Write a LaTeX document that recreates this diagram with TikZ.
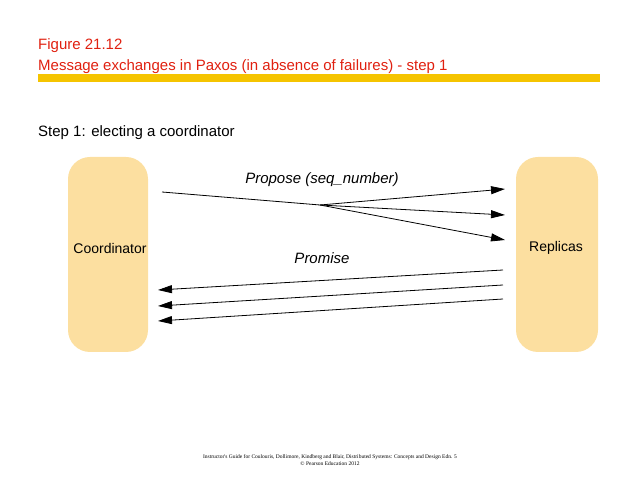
\documentclass[tikz,border=0pt]{standalone}
\usepackage{fontspec}
\setmainfont{Liberation Sans}
\newfontfamily\tms{Liberation Serif}
\usetikzlibrary{arrows.meta}
\definecolor{pill}{HTML}{FCDFA0}
\definecolor{bar}{HTML}{F5C400}
\definecolor{ttl}{HTML}{E02010}
\begin{document}
\begin{tikzpicture}[x=1pt,y=-1pt,
  proc/.style={fill=pill,draw=none,rounded corners=22pt},
  msg/.style={-{Triangle[length=14pt,width=8pt]},line width=0.8pt},
  lbl/.style={font=\itshape\fontsize{15}{17}\selectfont,inner sep=0pt}]
\useasboundingbox (0,0) rectangle (638,478);
\node[anchor=base west,text=ttl,font=\fontsize{15}{17}\selectfont,inner sep=0pt] (t1) at (38,50) {Figure 21.12};
\node[anchor=base west,text=ttl,font=\fontsize{15}{17}\selectfont,inner sep=0pt] (t2) at (38,71) {Message exchanges in Paxos (in absence of failures) - step 1};
\fill[bar] (38,74) rectangle (600,82);
\node[anchor=base west,font=\fontsize{15}{17}\selectfont,inner sep=0pt] (s) at (38,137) {Step 1: electing a coordinator};
\fill[proc] (68,157) rectangle (148,352);
\fill[proc] (516,157) rectangle (598,352);
\node[font=\fontsize{14}{16}\selectfont,inner sep=0pt] (co) at (110,248) {Coordinator};
\node[font=\fontsize{14}{16}\selectfont,inner sep=0pt] (re) at (556,248) {Replicas};
\node[lbl] (p1) at (322,180) {Propose (seq\_number)};
\node[lbl] (p2) at (322,258) {Promise};
\coordinate (a0) at (162,192);
\coordinate (m) at (320,205);
\coordinate (r1) at (505,189);
\coordinate (r2) at (505,215);
\coordinate (r3) at (505,240);
\draw[line width=0.8pt] (a0) -- (m);
\draw[msg] (m) -- (r1);
\draw[msg] (m) -- (r2);
\draw[msg] (m) -- (r3);
\coordinate (b1) at (503,270); \coordinate (c1) at (158,290);
\coordinate (b2) at (503,285); \coordinate (c2) at (158,306);
\coordinate (b3) at (503,299); \coordinate (c3) at (158,321);
\draw[msg] (b1) -- (c1);
\draw[msg] (b2) -- (c2);
\draw[msg] (b3) -- (c3);
\node[font=\tms\fontsize{5.5}{7}\selectfont,align=center,inner sep=0pt] (f) at (330,460) {Instructor's Guide for  Coulouris, Dollimore, Kindberg and Blair,  Distributed Systems: Concepts and Design   Edn. 5\\ \textcopyright{}  Pearson Education 2012};
\end{tikzpicture}
\end{document}
